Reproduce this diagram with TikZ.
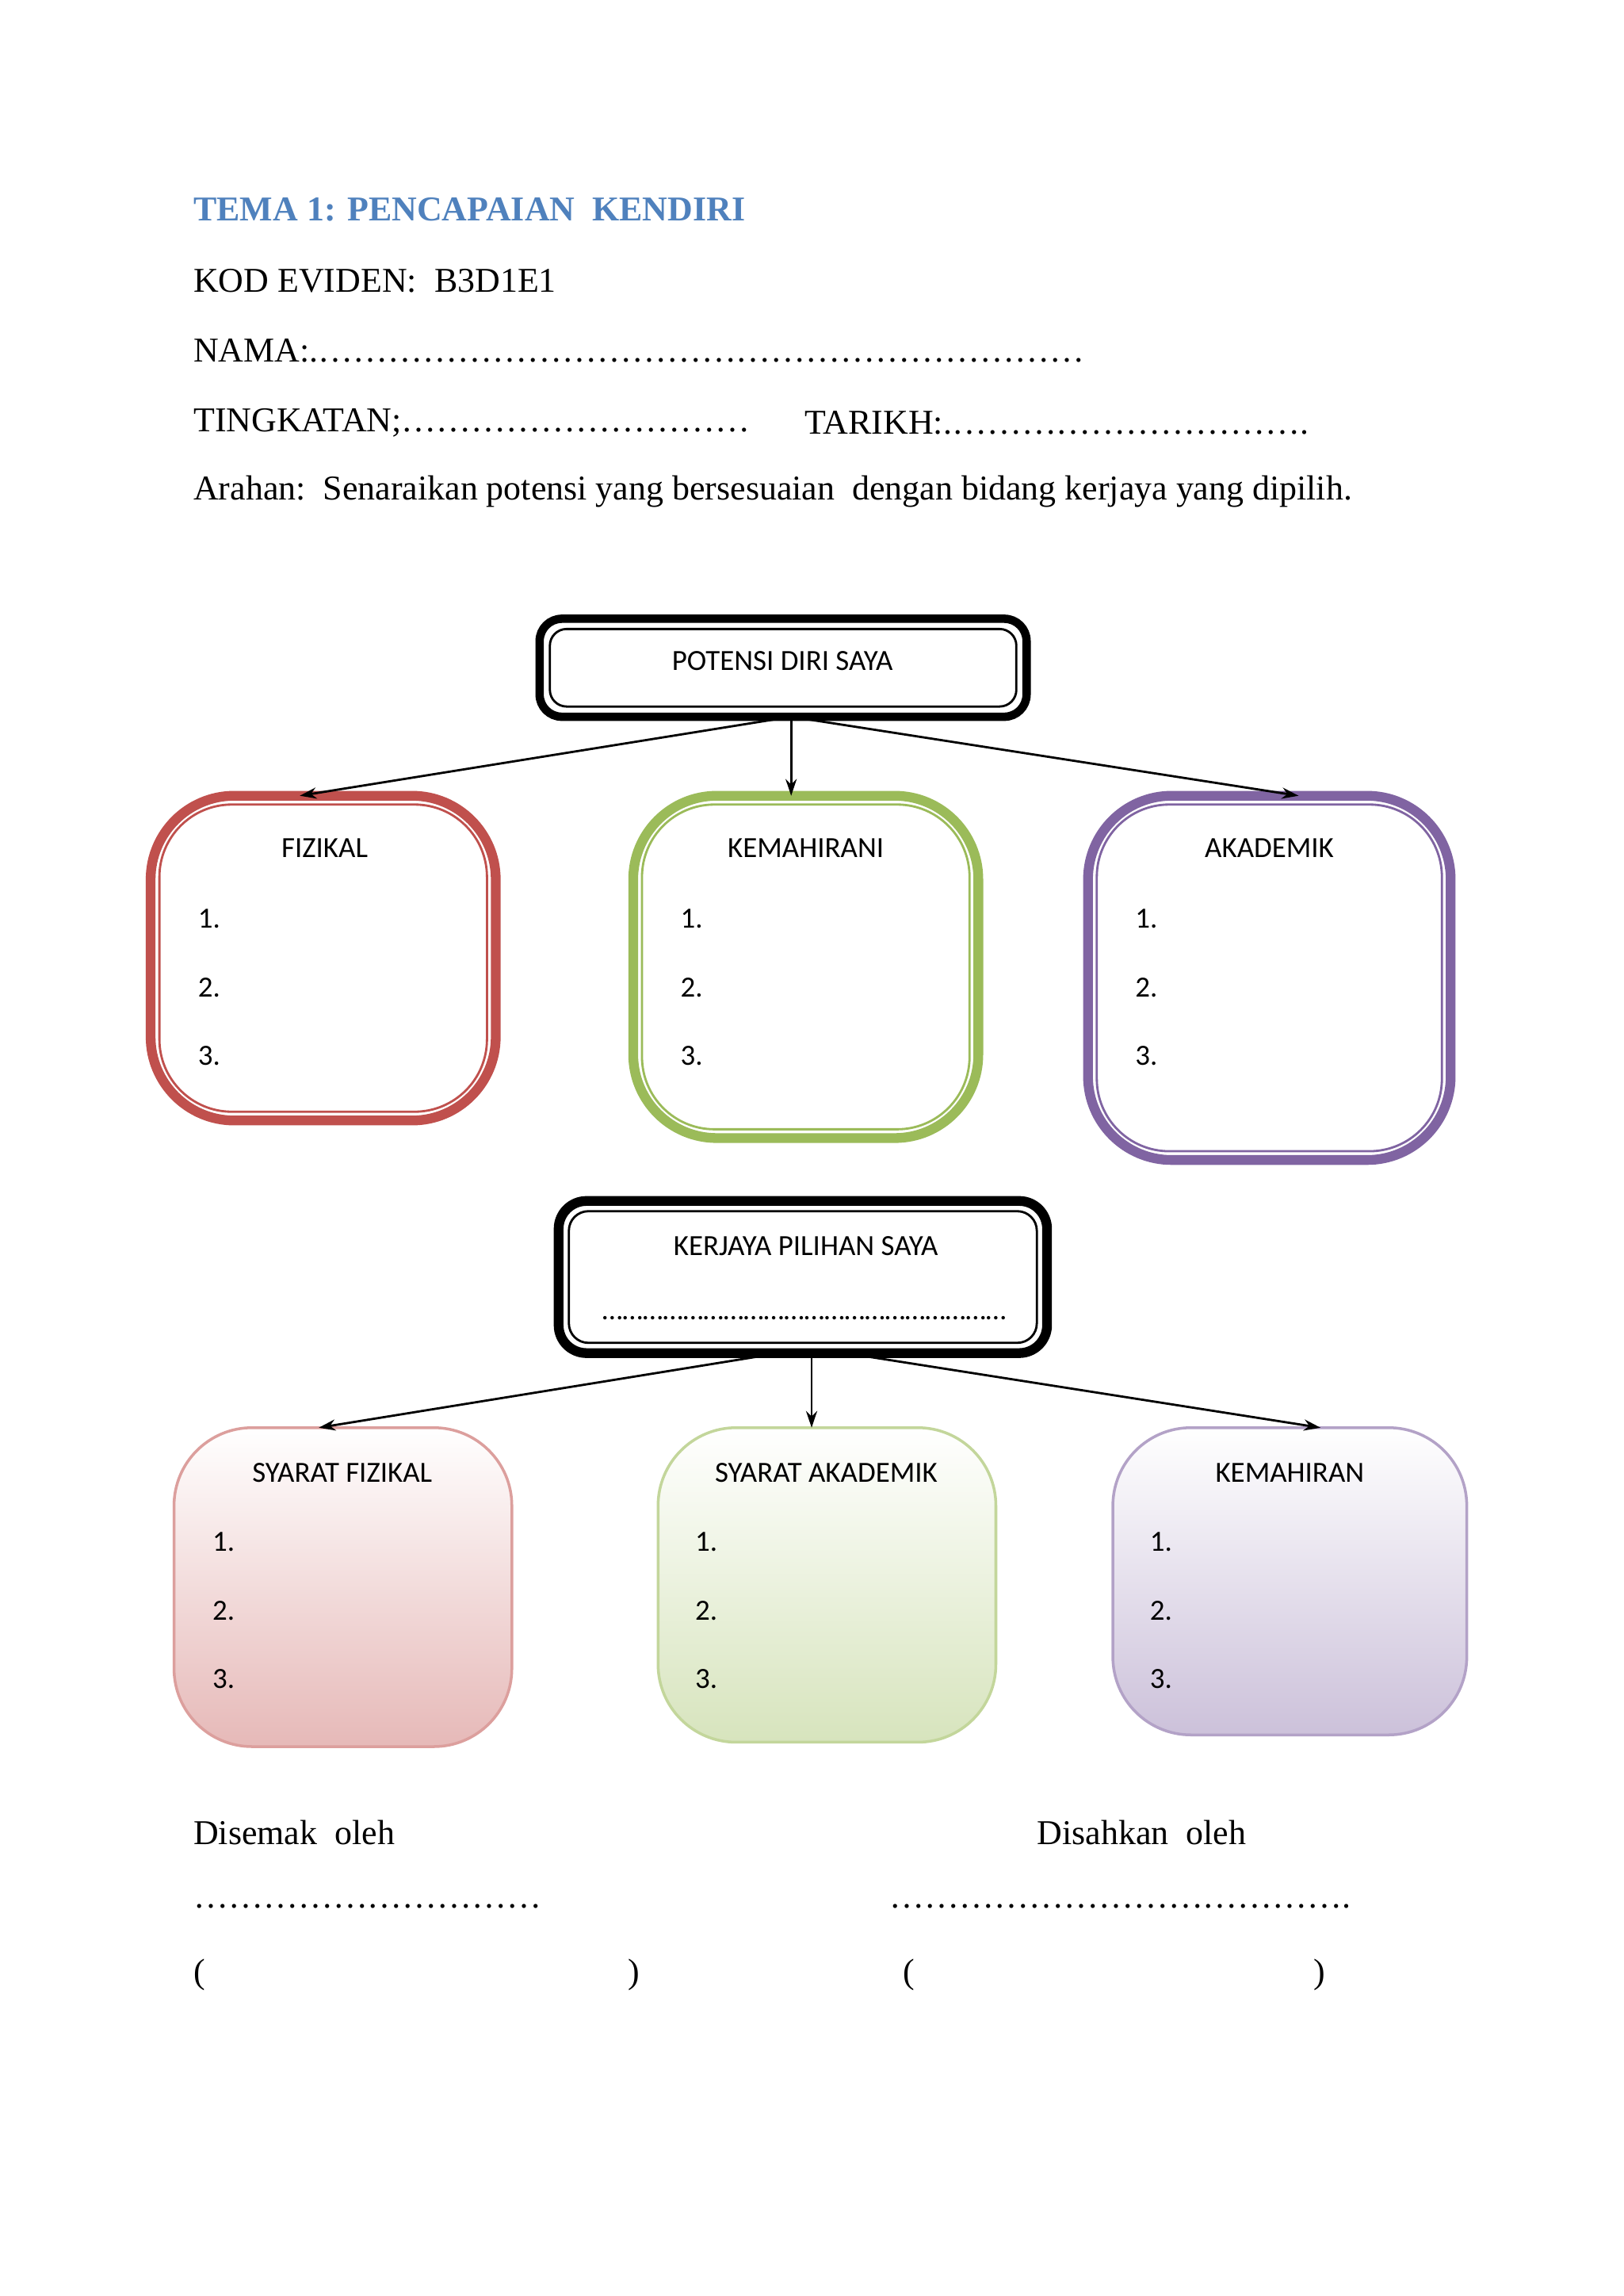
\documentclass[tikz,border=0pt]{standalone}
\usepackage{fontspec}
\setmainfont{Liberation Serif}
\newfontfamily\calfnt{Carlito}
\usetikzlibrary{arrows.meta}
\definecolor{tblue}{HTML}{4F81BD}
\definecolor{cred}{HTML}{C0504D}
\definecolor{cgreen}{HTML}{9BBB59}
\definecolor{cpurp}{HTML}{8064A2}
\definecolor{pinkf}{HTML}{E6B9B8}
\definecolor{greenf}{HTML}{D7E4BD}
\definecolor{purpf}{HTML}{CCC1DA}
\begin{document}
\begin{tikzpicture}[x=0.01845cm,y=-0.01845cm,
  txt/.style={anchor=west,inner sep=0,font=\fontsize{12.5}{14}\selectfont},
  btxt/.style={inner sep=0,font=\calfnt\fontsize{10.5}{12}\selectfont},
  itm/.style={anchor=west,inner sep=0,font=\calfnt\fontsize{10.5}{12}\selectfont},
  arr/.style={-{Stealth[length=6pt,width=4pt]},line width=0.8pt}]
\useasboundingbox[fill=white] (0,0) rectangle (1110,1569.6);
% header
\node[txt,text=tblue,font=\bfseries\fontsize{12.5}{14}\selectfont] (t) at (132,143) {TEMA 1: PENCAPAIAN\ \ KENDIRI};
\node[txt] (k) at (132,192) {KOD EVIDEN:\ \ B3D1E1};
\node[txt] (n) at (132,240) {NAMA:.…………………………………………………………};
\node[txt] (tg) at (132,289) {TINGKATAN;…………………………};
\node[txt] (tr) at (550,289) {TARIKH:.………………………….};
\node[txt] (ar) at (132,336) {Arahan:\ \ Senaraikan\ potensi\ yang\ bersesuaian\ \ dengan\ bidang\ kerjaya\ yang\ dipilih.};
% top box
\draw[line width=3pt,rounded corners=8] (369,423) rectangle (702,490);
\draw[line width=0.8pt,rounded corners=6] (376,430) rectangle (695,483);
\node[btxt] (p) at (535,452) {POTENSI DIRI SAYA};
\coordinate (ps) at (541,490);
% three double boxes
\foreach \a/\b/\c/\d/\col in {103/544/339/766/cred,433/544/669/778/cgreen,744/544/992/793/cpurp}{
  \draw[\col,line width=3.5pt,rounded corners=30] (\a,\b) rectangle (\c,\d);
  \draw[\col,line width=0.8pt,rounded corners=26] (\a+6,\b+6) rectangle (\c-6,\d-6);
}
\node[btxt] (f) at (222,580) {FIZIKAL};
\node[btxt] (ke) at (551,580) {KEMAHIRANI};
\node[btxt] (ak) at (868,580) {AKADEMIK};
\foreach \x/\nm in {135/a,465/b,776/c}{
  \node[itm] (\nm1) at (\x,628) {1.};
  \node[itm] (\nm2) at (\x,675) {2.};
  \node[itm] (\nm3) at (\x,722) {3.};
}
\coordinate (f0) at (205,544);
\coordinate (k0) at (541,544);
\coordinate (a0) at (888,544);
\draw[arr] (ps) -- (f0);
\draw[arr] (ps) -- (k0);
\draw[arr] (ps) -- (a0);
% kerjaya box
\draw[line width=3.5pt,rounded corners=10] (382,821) rectangle (716,925);
\draw[line width=0.8pt,rounded corners=7] (389,828) rectangle (709,918);
\node[btxt] (kp) at (551,852) {KERJAYA PILIHAN SAYA};
\node[btxt] (kd) at (550,901) {……………………………………………………};
\coordinate (q1) at (533,925);
\coordinate (q2) at (555,925);
\coordinate (q3) at (578,925);
% gradient boxes
\shade[top color=white,bottom color=pinkf,rounded corners=28] (119,976) rectangle (350,1194);
\draw[cred!55,line width=1pt,rounded corners=28] (119,976) rectangle (350,1194);
\shade[top color=white,bottom color=greenf,rounded corners=28] (450,976) rectangle (681,1191);
\draw[cgreen!60,line width=1pt,rounded corners=28] (450,976) rectangle (681,1191);
\shade[top color=white,bottom color=purpf,rounded corners=28] (761,976) rectangle (1003,1186);
\draw[cpurp!60,line width=1pt,rounded corners=28] (761,976) rectangle (1003,1186);
\node[btxt] (sf) at (234,1007) {SYARAT FIZIKAL};
\node[btxt] (sa) at (565,1007) {SYARAT AKADEMIK};
\node[btxt] (km) at (882,1007) {KEMAHIRAN};
\foreach \x/\nm in {145/d,475/e,786/g}{
  \node[itm] (\nm1) at (\x,1054) {1.};
  \node[itm] (\nm2) at (\x,1101) {2.};
  \node[itm] (\nm3) at (\x,1148) {3.};
}
\coordinate (s1) at (218,976);
\coordinate (s2) at (555,976);
\coordinate (s3) at (903,976);
\draw[arr] (q1) -- (s1);
\draw[arr] (q2) -- (s2);
\draw[arr] (q3) -- (s3);
% footer
\node[txt] (ds) at (132,1253) {Disemak\ \ oleh};
\node[txt] (dh) at (709,1253) {Disahkan\ \ oleh};
\node[txt] (d1) at (132,1303) {…………………………};
\node[txt] (d2) at (608,1303) {………………………………….};
\node[txt] (o1) at (132,1350) {(};
\node[txt] (c1) at (429,1350) {)};
\node[txt] (o2) at (617,1350) {(};
\node[txt] (c2) at (898,1350) {)};
\end{tikzpicture}
\end{document}
